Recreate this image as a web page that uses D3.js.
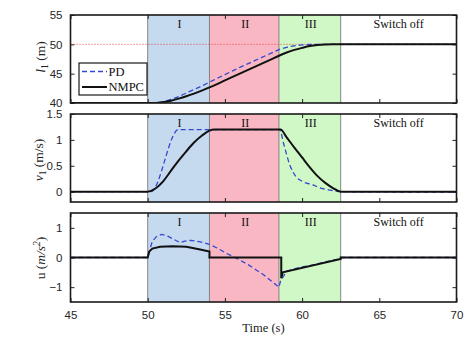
<!DOCTYPE html>
<html>
<head>
<meta charset="utf-8">
<script src="https://cdn.jsdelivr.net/npm/d3@7"></script>
<style>
  html, body { margin: 0; padding: 0; background: #fff; }
  svg { display: block; }
</style>
</head>
<body>
<div id="chart"></div>
<script>
// three stacked panels: position, velocity, control input vs time

const X_DOMAIN = [45, 70];
const X_TICKS = [45, 50, 55, 60, 65, 70];

// phases of the manoeuvre
const PHASE_NAMES = ["I", "II", "III", "Switch off"];
const PHASE_START = [50, 54, 58.5, 62.5];
const PHASE_END   = [54, 58.5, 62.5, 70];
const PHASE_FILL  = ["#c6daef", "#f9b7c3", "#d0f7c6", "none"];

const TARGET_POS = 50;

// position l1 (m)
const posT_PD   = [45, 50, 50.5, 51, 51.5, 52, 52.5, 53, 53.5, 54, 55, 56, 57, 58, 58.5, 59, 59.5, 60, 60.5, 61, 70];
const pos_PD    = [40, 40, 40.05, 40.25, 40.6, 41.1, 41.7, 42.3, 42.9, 43.55, 44.85, 46.1, 47.3, 48.5, 49.1, 49.5, 49.75, 49.9, 49.97, 50, 50];
const posT_NMPC = [45, 50, 50.5, 51, 51.5, 52, 52.5, 53, 53.5, 54, 55, 56, 57, 58, 58.5, 59, 59.5, 60, 60.5, 61, 61.5, 62, 62.5, 70];
const pos_NMPC  = [40, 40, 40.02, 40.15, 40.4, 40.75, 41.15, 41.6, 42.1, 42.65, 43.85, 45.05, 46.25, 47.45, 48.05, 48.6, 49.05, 49.4, 49.7, 49.88, 49.97, 50, 50, 50];

// velocity v1 (m/s)
const velT_PD   = [45, 50.2, 52, 58.55, 58.8, 59.2, 59.6, 60, 60.7, 61.2, 61.8, 62.5, 70];
const vel_PD    = [0, 0, 1.2, 1.2, 0.93, 0.52, 0.29, 0.2, 0.13, 0.07, 0.03, 0, -0.01];
const velT_NMPC = [45, 50, 50.5, 51, 51.5, 52, 52.5, 53, 53.5, 54, 54.3, 58.6, 59, 59.5, 60, 60.5, 61, 61.5, 62, 62.5, 70];
const vel_NMPC  = [0, 0, 0.06, 0.2, 0.4, 0.6, 0.78, 0.95, 1.08, 1.18, 1.2, 1.2, 1.05, 0.85, 0.66, 0.47, 0.3, 0.17, 0.07, 0, 0];

// control input u (m/s^2)
const uT_PD   = [45, 50, 50.1, 50.3, 50.6, 50.9, 51.3, 51.8, 52.1, 52.4, 52.8, 53.4, 54, 54.5, 55.1, 55.8, 56.5, 57.5, 58.5, 58.6, 59, 59.5, 60, 60.7, 61.5, 62.5, 62.55, 70];
const u_PD    = [0, 0, 0.2, 0.55, 0.72, 0.78, 0.72, 0.58, 0.5, 0.55, 0.58, 0.53, 0.44, 0.32, 0.14, -0.04, -0.24, -0.58, -1.0, -0.8, -0.46, -0.38, -0.32, -0.25, -0.15, -0.03, 0, 0];
const uT_NMPC = [45, 50, 50.1, 50.3, 50.8, 51.6, 52.5, 53.4, 54, 54, 58.65, 58.65, 58.75, 62.5, 62.5, 70];
const u_NMPC  = [0, 0, 0.2, 0.3, 0.36, 0.38, 0.36, 0.27, 0.2, 0, 0, -0.7, -0.5, -0.05, 0, 0];

const zip = (ts, vs) => ts.map((t, i) => ({ t, v: vs[i] }));

const panels = [
  { top: 15,  bottom: 103, domain: [40, 55],    ticks: [40, 45, 50, 55],
    pd: zip(posT_PD, pos_PD), nmpc: zip(posT_NMPC, pos_NMPC), curve: d3.curveMonotoneX,
    legend: true, target: true },
  { top: 114, bottom: 202, domain: [-0.2, 1.5], ticks: [0, 0.5, 1, 1.5],
    pd: zip(velT_PD, vel_PD), nmpc: zip(velT_NMPC, vel_NMPC), curve: d3.curveMonotoneX },
  { top: 213, bottom: 302, domain: [-1.5, 1.5], ticks: [-1, 0, 1],
    pd: zip(uT_PD, u_PD), nmpc: zip(uT_NMPC, u_NMPC), curve: d3.curveLinear,
    xLabels: true },
];

const W = 474, H = 345;
const left = 70.5, right = 456.5;
const SERIF = "'Liberation Serif', 'DejaVu Serif', serif";
const SANS = "'Liberation Sans', Arial, sans-serif";

const svg = d3.select("#chart").append("svg").attr("width", W).attr("height", H);
const x = d3.scaleLinear().domain(X_DOMAIN).range([left, right]);

panels.forEach((p, i) => {
  const y = d3.scaleLinear().domain(p.domain).range([p.bottom, p.top]);
  const g = svg.append("g");
  const clipId = "clip" + i;
  svg.append("clipPath").attr("id", clipId).append("rect")
    .attr("x", left).attr("y", p.top).attr("width", right - left).attr("height", p.bottom - p.top);

  // phase shading
  g.selectAll("rect.phase").data(PHASE_NAMES).join("rect").attr("class", "phase")
    .attr("x", (d, k) => x(PHASE_START[k])).attr("y", p.top)
    .attr("width", (d, k) => x(PHASE_END[k]) - x(PHASE_START[k]))
    .attr("height", p.bottom - p.top)
    .attr("fill", (d, k) => PHASE_FILL[k]);

  g.selectAll("line.phase").data(PHASE_START).join("line").attr("class", "phase")
    .attr("x1", d => x(d)).attr("x2", d => x(d)).attr("y1", p.top).attr("y2", p.bottom)
    .attr("stroke", "#6a6a6a").attr("stroke-width", 0.8);

  g.selectAll("text.phase").data(PHASE_NAMES).join("text").attr("class", "phase")
    .attr("x", (d, k) => x((PHASE_START[k] + PHASE_END[k]) / 2) + (k === 3 ? 0 : 1))
    .attr("y", p.top + 13)
    .attr("text-anchor", "middle")
    .style("font-family", SERIF).style("font-size", "12px").attr("fill", "#111")
    .text(d => d);

  // axes with inward ticks on all four sides
  const tickStyle = a => a.call(s => s.select(".domain").remove())
    .call(s => s.selectAll("line").attr("stroke", "#222").attr("stroke-width", 1))
    .call(s => s.selectAll("text").style("font-family", SANS).style("font-size", "11.5px").attr("fill", "#262626"));

  g.append("g").attr("transform", `translate(0,${p.bottom})`)
    .call(d3.axisBottom(x).tickValues(X_TICKS).tickSize(-4).tickPadding(9)
      .tickFormat(p.xLabels ? d3.format("d") : ""))
    .call(tickStyle);
  g.append("g").attr("transform", `translate(0,${p.top})`)
    .call(d3.axisTop(x).tickValues(X_TICKS).tickSize(-4).tickFormat(""))
    .call(tickStyle);
  g.append("g").attr("transform", `translate(${left},0)`)
    .call(d3.axisLeft(y).tickValues(p.ticks).tickSize(-4).tickPadding(8).tickFormat(d3.format("")))
    .call(tickStyle);
  g.append("g").attr("transform", `translate(${right},0)`)
    .call(d3.axisRight(y).tickValues(p.ticks).tickSize(-4).tickFormat(""))
    .call(tickStyle);

  const plot = g.append("g").attr("clip-path", `url(#${clipId})`);

  if (p.target) {
    plot.append("line")
      .attr("x1", left).attr("x2", right).attr("y1", y(TARGET_POS)).attr("y2", y(TARGET_POS))
      .attr("stroke", "#e0302a").attr("stroke-width", 0.9).attr("stroke-dasharray", "1,2");
  }

  const line = d3.line().x(d => x(d.t)).y(d => y(d.v)).curve(p.curve);
  plot.append("path").attr("d", line(p.pd)).attr("fill", "none")
    .attr("stroke", "#3347d1").attr("stroke-width", 1.3).attr("stroke-dasharray", "5,3");
  plot.append("path").attr("d", line(p.nmpc)).attr("fill", "none")
    .attr("stroke", "#111").attr("stroke-width", 2);

  // frame
  g.append("rect").attr("x", left).attr("y", p.top)
    .attr("width", right - left).attr("height", p.bottom - p.top)
    .attr("fill", "none").attr("stroke", "#1a1a1a").attr("stroke-width", 1.6);

  if (p.legend) {
    const lg = g.append("g").attr("transform", "translate(79,63)");
    lg.append("rect").attr("width", 68).attr("height", 32)
      .attr("fill", "#fff").attr("stroke", "#1a1a1a").attr("stroke-width", 1.2);
    lg.append("line").attr("x1", 3).attr("x2", 28).attr("y1", 8.5).attr("y2", 8.5)
      .attr("stroke", "#3347d1").attr("stroke-width", 1.3).attr("stroke-dasharray", "5,3");
    lg.append("line").attr("x1", 3).attr("x2", 28).attr("y1", 24).attr("y2", 24)
      .attr("stroke", "#111").attr("stroke-width", 2);
    lg.selectAll("text").data(["PD", "NMPC"]).join("text")
      .attr("x", 29.5).attr("y", (d, k) => 12.5 + k * 15.5)
      .style("font-family", SERIF).style("font-size", "12.5px").attr("fill", "#111")
      .text(d => d);
  }
});

// y axis titles
const yTitle = (cx, cy) => svg.append("text")
  .attr("transform", `translate(${cx},${cy}) rotate(-90)`)
  .attr("text-anchor", "middle")
  .style("font-family", SERIF).style("font-size", "13.5px").attr("fill", "#222");

const t1 = yTitle(45, 57);
t1.append("tspan").style("font-style", "italic").text("l");
t1.append("tspan").attr("dy", 3).style("font-size", "9.5px").text("1");
t1.append("tspan").attr("dy", -3).text(" (m)");

const t2 = yTitle(43, 160);
t2.append("tspan").style("font-style", "italic").text("v");
t2.append("tspan").attr("dy", 3).style("font-size", "9.5px").text("1");
t2.append("tspan").attr("dy", -3).text(" (m/s)");

const t3 = yTitle(45, 258);
t3.append("tspan").text("u (");
t3.append("tspan").style("font-style", "italic").text("m/s");
t3.append("tspan").attr("dy", -5).style("font-size", "9.5px").style("font-style", "italic").text("2");
t3.append("tspan").attr("dy", 5).text(")");

// x axis title
svg.append("text").attr("x", (left + right) / 2).attr("y", 332)
  .attr("text-anchor", "middle")
  .style("font-family", SERIF).style("font-size", "12.5px").attr("fill", "#222")
  .text("Time (s)");
</script>
</body>
</html>
